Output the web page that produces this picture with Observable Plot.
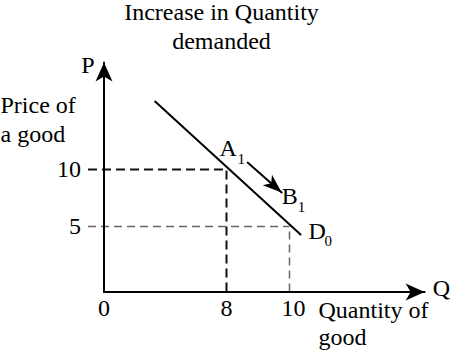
<!DOCTYPE html>
<html>
<head>
<meta charset="utf-8">
<script src="https://cdn.jsdelivr.net/npm/d3@7"></script>
<script src="https://cdn.jsdelivr.net/npm/@observablehq/plot@0.6"></script>
<style>
  html, body { margin: 0; padding: 0; background: #fff; }
</style>
</head>
<body>
<div id="chart"></div>
<script>
// ---- data ----
const qTicks = [0, 8, 10];          // quantity tick labels
const pTicks = [5, 10];             // price tick labels
const pointQ = [8, 10];             // A1 and D0 quantities
const pointP = [10, 5];             // A1 and D0 prices
const demandQ = [3.34, 10.35];      // demand line D0 (end points)
const demandP = [15.96, 4.39];
const moveQ = [8.67, 9.75];         // movement arrow A1 -> B1
const moveP = [10.61, 7.98];
const axisEndQ = 14.29;             // arrow tip of Q axis
const axisEndP = 19.39;             // arrow tip of P axis
const guideStartQ = -1.01;          // dashed guides start left of the P axis

const serif = "Liberation Serif";
const black = "#000";
const gray = "#666";
const txt = {fontSize: 24, fontFamily: serif, fill: black, lineAnchor: "bottom"};
const sub = {fontSize: 15, fontFamily: serif, fill: black, lineAnchor: "bottom", textAnchor: "start"};

const chart = Plot.plot({
  width: 450,
  height: 355,
  margin: 0,
  x: {type: "linear", domain: [0, 8, 10], range: [103.5, 226, 289], axis: null},
  y: {type: "linear", domain: [0, 5, 10], range: [291.5, 226, 169], axis: null},
  style: {background: "#fff", fontFamily: serif},
  marks: [
    // dashed guides
    Plot.ruleY([pointP[0]], {x1: guideStartQ, x2: pointQ[0], stroke: "#111", strokeWidth: 2, strokeDasharray: "9,5"}),
    Plot.ruleX([pointQ[0]], {y1: 0, y2: pointP[0], stroke: "#111", strokeWidth: 2, strokeDasharray: "9,5"}),
    Plot.ruleY([pointP[1]], {x1: guideStartQ, x2: pointQ[1], stroke: gray, strokeWidth: 1.5, strokeDasharray: "8,5"}),
    Plot.ruleX([pointQ[1]], {y1: 0, y2: pointP[1], stroke: gray, strokeWidth: 1.5, strokeDasharray: "8,5"}),
    // axes
    Plot.line(d3.zip([0, 0], [0, axisEndP]), {stroke: black, strokeWidth: 2, ariaDescription: "axis-arrow"}),
    Plot.line(d3.zip([0, axisEndQ], [0, 0]), {stroke: black, strokeWidth: 2, ariaDescription: "axis-arrow"}),
    // demand curve
    Plot.line(d3.zip(demandQ, demandP), {stroke: black, strokeWidth: 2}),
    // movement arrow
    Plot.line(d3.zip(moveQ, moveP), {stroke: black, strokeWidth: 2, ariaDescription: "move-arrow"}),
    // tick labels
    Plot.text(qTicks.slice(0, 2), {x: d => d, y: 0, text: d => String(d), dy: 24, textAnchor: "middle", ...txt}),
    Plot.text(qTicks.slice(2), {x: d => d, y: 0, text: d => String(d), dy: 24, dx: 4, textAnchor: "middle", ...txt}),
    Plot.text(pTicks, {x: 0, y: d => d, text: d => String(d), dx: -23, ...txt, lineAnchor: "middle", textAnchor: "end"}),
    // axis names
    Plot.text(["P"], {x: 0, y: axisEndP, dx: -16, dy: 11, textAnchor: "middle", ...txt}),
    Plot.text(["Q"], {x: axisEndQ, y: 0, dx: 8, dy: 4, textAnchor: "start", ...txt}),
    Plot.text(["Price of\na good"], {frameAnchor: "top-left", dx: 0, dy: 141, lineHeight: 1.2, textAnchor: "start", ...txt}),
    Plot.text(["Quantity of\ngood"], {x: pointQ[1], y: 0, dx: 29, dy: 53, lineHeight: 1.13, textAnchor: "start", ...txt}),
    // title
    Plot.text(["Increase in Quantity\ndemanded"], {frameAnchor: "top", dx: -4, dy: 48, lineHeight: 1.17, textAnchor: "middle", ...txt}),
    // point labels
    Plot.text(["A"], {x: pointQ[0], y: pointP[0], dx: -7, dy: -14, textAnchor: "start", ...txt}),
    Plot.text(["1"], {x: pointQ[0], y: pointP[0], dx: 11, dy: -6, ...sub}),
    Plot.text(["B"], {x: moveQ[1], y: moveP[1], dx: 0, dy: 11, textAnchor: "start", ...txt}),
    Plot.text(["1"], {x: moveQ[1], y: moveP[1], dx: 16, dy: 19, ...sub}),
    Plot.text(["D"], {x: pointQ[1], y: pointP[1], dx: 19, dy: 12, textAnchor: "start", ...txt}),
    Plot.text(["0"], {x: pointQ[1], y: pointP[1], dx: 35, dy: 19, ...sub})
  ]
});

// filled, notched arrowheads
const svg = d3.select(chart);
const defs = svg.insert("defs", ":first-child");
function addHead(id, len, half, notch) {
  defs.append("marker")
    .attr("id", id)
    .attr("viewBox", `${-len - 1} ${-half - 1} ${len + 2} ${2 * half + 2}`)
    .attr("markerWidth", len + 2)
    .attr("markerHeight", 2 * half + 2)
    .attr("markerUnits", "userSpaceOnUse")
    .attr("refX", 0)
    .attr("refY", 0)
    .attr("orient", "auto")
    .append("path")
    .attr("d", `M0,0L${-len},${-half}L${-len + notch},0L${-len},${half}Z`)
    .attr("fill", black);
}
addHead("axisHead", 19, 8.5, 5);
addHead("moveHead", 19, 7, 5);
svg.selectAll('g[aria-description="axis-arrow"] path').attr("marker-end", "url(#axisHead)");
svg.selectAll('g[aria-description="move-arrow"] path').attr("marker-end", "url(#moveHead)");

document.getElementById("chart").appendChild(chart);
</script>
</body>
</html>
